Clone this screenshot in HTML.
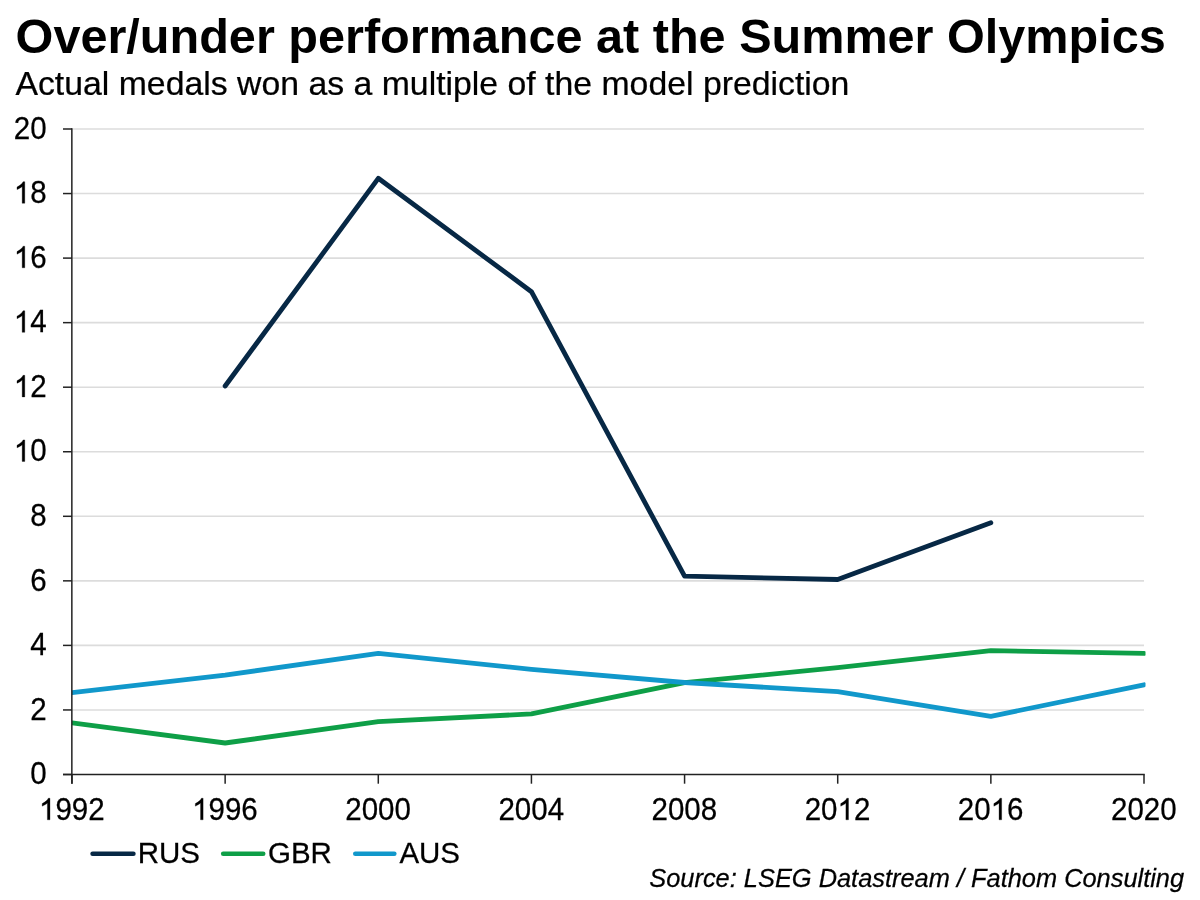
<!DOCTYPE html>
<html><head><meta charset="utf-8">
<style>
html,body{margin:0;padding:0;background:#fff;}
body{width:1200px;height:900px;overflow:hidden;}
svg{display:block;will-change:transform;font-family:"Liberation Sans",sans-serif;}
text{fill:#000;stroke:#000;stroke-width:0.25px;}
.b{stroke-width:0px;}
</style></head>
<body>
<svg width="1200" height="900" viewBox="0 0 1200 900">
<rect width="1200" height="900" fill="#fff"/>
<text transform="translate(15.60,53.40) scale(1.0,0.985)" font-size="48.6" text-anchor="start" font-weight="bold" class="b">Over/under performance at the Summer Olympics</text>
<text transform="translate(15.40,95.40) scale(1.0,0.99)" font-size="33.8" text-anchor="start" >Actual medals won as a multiple of the model prediction</text>
<g stroke="#dcdcdc" stroke-width="1.6"><line x1="72.0" y1="709.95" x2="1144.0" y2="709.95"/><line x1="72.0" y1="645.40" x2="1144.0" y2="645.40"/><line x1="72.0" y1="580.85" x2="1144.0" y2="580.85"/><line x1="72.0" y1="516.30" x2="1144.0" y2="516.30"/><line x1="72.0" y1="451.75" x2="1144.0" y2="451.75"/><line x1="72.0" y1="387.20" x2="1144.0" y2="387.20"/><line x1="72.0" y1="322.65" x2="1144.0" y2="322.65"/><line x1="72.0" y1="258.10" x2="1144.0" y2="258.10"/><line x1="72.0" y1="193.55" x2="1144.0" y2="193.55"/><line x1="72.0" y1="129.00" x2="1144.0" y2="129.00"/></g>
<clipPath id="pc"><rect x="72" y="0" width="1073.5" height="900"/></clipPath>
<g fill="none" stroke-width="4.8" stroke-linejoin="round" stroke-linecap="round" clip-path="url(#pc)">
<path d="M225.14,386.00 L378.29,178.30 L531.43,291.70 L684.57,576.20 L837.71,579.50 L990.86,522.75" stroke="#072845"/>
<path d="M72.00,722.90 L225.14,743.00 L378.29,721.70 L531.43,713.90 L684.57,682.70 L837.71,667.70 L990.86,650.60 L1144.00,653.40" stroke="#0e9f47"/>
<path d="M72.00,692.55 L225.14,675.10 L378.29,653.30 L531.43,669.40 L684.57,682.50 L837.71,691.70 L990.86,716.30 L1144.00,684.80" stroke="#1198cb"/>
</g>
<g stroke="#222" stroke-width="1.5">
<line x1="71.85" y1="128.25" x2="71.85" y2="783.7"/>
<line x1="63" y1="774.5" x2="1144.75" y2="774.5"/>
<line x1="63" y1="774.50" x2="72.0" y2="774.50"/><line x1="63" y1="709.95" x2="72.0" y2="709.95"/><line x1="63" y1="645.40" x2="72.0" y2="645.40"/><line x1="63" y1="580.85" x2="72.0" y2="580.85"/><line x1="63" y1="516.30" x2="72.0" y2="516.30"/><line x1="63" y1="451.75" x2="72.0" y2="451.75"/><line x1="63" y1="387.20" x2="72.0" y2="387.20"/><line x1="63" y1="322.65" x2="72.0" y2="322.65"/><line x1="63" y1="258.10" x2="72.0" y2="258.10"/><line x1="63" y1="193.55" x2="72.0" y2="193.55"/><line x1="63" y1="129.00" x2="72.0" y2="129.00"/><line x1="72.00" y1="774.5" x2="72.00" y2="783.7"/><line x1="225.14" y1="774.5" x2="225.14" y2="783.7"/><line x1="378.29" y1="774.5" x2="378.29" y2="783.7"/><line x1="531.43" y1="774.5" x2="531.43" y2="783.7"/><line x1="684.57" y1="774.5" x2="684.57" y2="783.7"/><line x1="837.71" y1="774.5" x2="837.71" y2="783.7"/><line x1="990.86" y1="774.5" x2="990.86" y2="783.7"/><line x1="1144.00" y1="774.5" x2="1144.00" y2="783.7"/>
</g>
<g><text transform="translate(46.60,784.20) scale(1.0,1.04)" font-size="29.5" text-anchor="end" >0</text><text transform="translate(46.60,719.65) scale(1.0,1.04)" font-size="29.5" text-anchor="end" >2</text><text transform="translate(46.60,655.10) scale(1.0,1.04)" font-size="29.5" text-anchor="end" >4</text><text transform="translate(46.60,590.55) scale(1.0,1.04)" font-size="29.5" text-anchor="end" >6</text><text transform="translate(46.60,526.00) scale(1.0,1.04)" font-size="29.5" text-anchor="end" >8</text><text transform="translate(46.60,461.45) scale(1.0,1.04)" font-size="29.5" text-anchor="end" > 0</text><path d="M763,0 L583,0 L583,1122 Q518,1061 412,1001 Q306,940 223,910 L223,1080 Q373,1150 486,1248 Q599,1347 646,1440 L763,1440 Z" transform="translate(13.79,461.45) scale(0.01440,-0.01498)" fill="#000" stroke="#000" stroke-width="0.3" vector-effect="non-scaling-stroke"/><text transform="translate(46.60,396.90) scale(1.0,1.04)" font-size="29.5" text-anchor="end" > 2</text><path d="M763,0 L583,0 L583,1122 Q518,1061 412,1001 Q306,940 223,910 L223,1080 Q373,1150 486,1248 Q599,1347 646,1440 L763,1440 Z" transform="translate(13.79,396.90) scale(0.01440,-0.01498)" fill="#000" stroke="#000" stroke-width="0.3" vector-effect="non-scaling-stroke"/><text transform="translate(46.60,332.35) scale(1.0,1.04)" font-size="29.5" text-anchor="end" > 4</text><path d="M763,0 L583,0 L583,1122 Q518,1061 412,1001 Q306,940 223,910 L223,1080 Q373,1150 486,1248 Q599,1347 646,1440 L763,1440 Z" transform="translate(13.79,332.35) scale(0.01440,-0.01498)" fill="#000" stroke="#000" stroke-width="0.3" vector-effect="non-scaling-stroke"/><text transform="translate(46.60,267.80) scale(1.0,1.04)" font-size="29.5" text-anchor="end" > 6</text><path d="M763,0 L583,0 L583,1122 Q518,1061 412,1001 Q306,940 223,910 L223,1080 Q373,1150 486,1248 Q599,1347 646,1440 L763,1440 Z" transform="translate(13.79,267.80) scale(0.01440,-0.01498)" fill="#000" stroke="#000" stroke-width="0.3" vector-effect="non-scaling-stroke"/><text transform="translate(46.60,203.25) scale(1.0,1.04)" font-size="29.5" text-anchor="end" > 8</text><path d="M763,0 L583,0 L583,1122 Q518,1061 412,1001 Q306,940 223,910 L223,1080 Q373,1150 486,1248 Q599,1347 646,1440 L763,1440 Z" transform="translate(13.79,203.25) scale(0.01440,-0.01498)" fill="#000" stroke="#000" stroke-width="0.3" vector-effect="non-scaling-stroke"/><text transform="translate(46.60,138.70) scale(1.0,1.04)" font-size="29.5" text-anchor="end" >20</text></g>
<g><text transform="translate(71.80,819.80) scale(1.0,1.04)" font-size="29.5" text-anchor="middle" > 992</text><path d="M763,0 L583,0 L583,1122 Q518,1061 412,1001 Q306,940 223,910 L223,1080 Q373,1150 486,1248 Q599,1347 646,1440 L763,1440 Z" transform="translate(38.99,819.80) scale(0.01440,-0.01498)" fill="#000" stroke="#000" stroke-width="0.3" vector-effect="non-scaling-stroke"/><text transform="translate(224.94,819.80) scale(1.0,1.04)" font-size="29.5" text-anchor="middle" > 996</text><path d="M763,0 L583,0 L583,1122 Q518,1061 412,1001 Q306,940 223,910 L223,1080 Q373,1150 486,1248 Q599,1347 646,1440 L763,1440 Z" transform="translate(192.13,819.80) scale(0.01440,-0.01498)" fill="#000" stroke="#000" stroke-width="0.3" vector-effect="non-scaling-stroke"/><text transform="translate(378.09,819.80) scale(1.0,1.04)" font-size="29.5" text-anchor="middle" >2000</text><text transform="translate(531.23,819.80) scale(1.0,1.04)" font-size="29.5" text-anchor="middle" >2004</text><text transform="translate(684.37,819.80) scale(1.0,1.04)" font-size="29.5" text-anchor="middle" >2008</text><text transform="translate(837.51,819.80) scale(1.0,1.04)" font-size="29.5" text-anchor="middle" >20 2</text><path d="M763,0 L583,0 L583,1122 Q518,1061 412,1001 Q306,940 223,910 L223,1080 Q373,1150 486,1248 Q599,1347 646,1440 L763,1440 Z" transform="translate(837.51,819.80) scale(0.01440,-0.01498)" fill="#000" stroke="#000" stroke-width="0.3" vector-effect="non-scaling-stroke"/><text transform="translate(990.66,819.80) scale(1.0,1.04)" font-size="29.5" text-anchor="middle" >20 6</text><path d="M763,0 L583,0 L583,1122 Q518,1061 412,1001 Q306,940 223,910 L223,1080 Q373,1150 486,1248 Q599,1347 646,1440 L763,1440 Z" transform="translate(990.66,819.80) scale(0.01440,-0.01498)" fill="#000" stroke="#000" stroke-width="0.3" vector-effect="non-scaling-stroke"/><text transform="translate(1143.80,819.80) scale(1.0,1.04)" font-size="29.5" text-anchor="middle" >2020</text></g>
<g stroke-width="4.6" stroke-linecap="round">
<line x1="92.6" y1="853.7" x2="133.4" y2="853.7" stroke="#072845"/>
<line x1="223.2" y1="853.7" x2="263.2" y2="853.7" stroke="#0e9f47"/>
<line x1="355.3" y1="853.7" x2="394.3" y2="853.7" stroke="#1198cb"/>
</g>
<text transform="translate(137.70,863.20) scale(1.0,1.02)" font-size="29.5" text-anchor="start" >RUS</text>
<text transform="translate(268.00,863.20) scale(1.0,1.02)" font-size="29.5" text-anchor="start" >GBR</text>
<text transform="translate(399.40,863.20) scale(1.0,1.02)" font-size="29.5" text-anchor="start" >AUS</text>
<text transform="translate(649.30,887.20) scale(1.0,1.01)" font-size="25.4" text-anchor="start" font-style="italic">Source: LSEG Datastream / Fathom Consulting</text>
</svg>
</body></html>
